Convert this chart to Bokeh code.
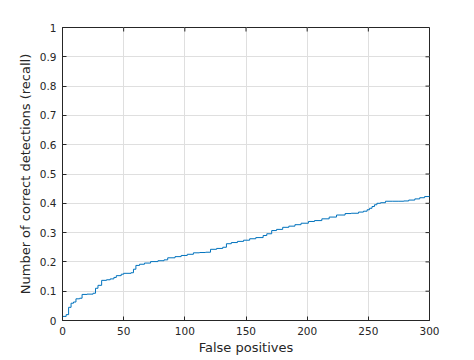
import math
from bokeh.plotting import figure
from bokeh.models import FixedTicker, Range1d
from bokeh.embed import file_html
from bokeh.resources import INLINE

# Data
false_positives = [0, 3, 5, 7, 9, 11, 14, 16, 20, 25, 27, 29, 32, 36, 39, 42, 44, 48, 50, 56,
                   58, 60, 63, 67, 72, 78, 83, 86, 92, 97, 102, 107, 112, 117, 121, 126, 131,
                   134, 138, 143, 148, 153, 158, 164, 167, 171, 175, 180, 185, 190, 195, 201,
                   206, 212, 218, 224, 231, 236, 242, 246, 249, 251, 253, 255, 257, 260, 264,
                   270, 275, 279, 283, 288, 292, 296, 300]
recall = [0.014, 0.020, 0.045, 0.059, 0.063, 0.074, 0.076, 0.089, 0.090, 0.093, 0.110, 0.120,
          0.137, 0.139, 0.142, 0.147, 0.153, 0.158, 0.161, 0.163, 0.175, 0.188, 0.192, 0.196,
          0.201, 0.204, 0.207, 0.214, 0.218, 0.222, 0.226, 0.231, 0.232, 0.233, 0.243, 0.246,
          0.250, 0.262, 0.266, 0.270, 0.274, 0.279, 0.283, 0.290, 0.296, 0.307, 0.311, 0.318,
          0.322, 0.327, 0.332, 0.338, 0.341, 0.347, 0.353, 0.360, 0.365, 0.366, 0.370, 0.373,
          0.378, 0.383, 0.389, 0.395, 0.400, 0.402, 0.407, 0.407, 0.407, 0.408, 0.411, 0.415,
          0.419, 0.423, 0.427]

x_ticks = [0, 50, 100, 150, 200, 250, 300]
y_ticks = [0, 0.1, 0.2, 0.3, 0.4, 0.5, 0.6, 0.7, 0.8, 0.9, 1.0]
y_tick_labels = ["0", "0.1", "0.2", "0.3", "0.4", "0.5", "0.6", "0.7", "0.8", "0.9", "1"]

FONT = "DejaVu Sans"
DARK = "#262626"

x_min, x_max = x_ticks[0], x_ticks[-1]
y_min, y_max = y_ticks[0], y_ticks[-1]

p = figure(frame_width=367, frame_height=293, output_backend="svg", toolbar_location=None,
           x_range=Range1d(x_min, x_max), y_range=Range1d(y_min, y_max),
           min_border_left=62, min_border_right=45, min_border_top=27, min_border_bottom=38,
           x_axis_label="False positives", y_axis_label="Number of correct detections (recall)")
p.background_fill_color = "white"
p.border_fill_color = "white"
p.outline_line_color = DARK
p.outline_line_width = 1

p.grid.grid_line_color = "#dfdfdf"
p.grid.grid_line_width = 1
p.xgrid.ticker = FixedTicker(ticks=x_ticks)
p.ygrid.ticker = FixedTicker(ticks=y_ticks)

p.step(false_positives, recall, mode="after", line_color="#0072BD", line_width=1)

p.xaxis.ticker = FixedTicker(ticks=x_ticks)
p.yaxis.ticker = FixedTicker(ticks=y_ticks)
p.yaxis.major_label_overrides = {t: l for t, l in zip(y_ticks, y_tick_labels)}

for ax in [p.xaxis[0], p.yaxis[0]]:
    ax.major_tick_in = 4
    ax.major_tick_out = 0
    ax.minor_tick_in = 0
    ax.minor_tick_out = 0
    ax.axis_line_color = DARK
    ax.major_tick_line_color = DARK
    ax.major_label_text_font = FONT
    ax.major_label_text_font_size = "10.5px"
    ax.major_label_text_color = DARK
    ax.axis_label_text_font = FONT
    ax.axis_label_text_font_size = "13px"
    ax.axis_label_text_font_style = "normal"
    ax.axis_label_text_color = DARK
    ax.major_label_standoff = 6

p.xaxis.axis_label_standoff = 2
p.yaxis.axis_label_standoff = 4

# inward ticks on the top and right edges of the box
p.ray(x=x_ticks, y=[y_max] * len(x_ticks), length=4, length_units="screen",
      angle=-math.pi / 2, line_color=DARK, line_width=1)
p.ray(x=[x_max] * len(y_ticks), y=y_ticks, length=4, length_units="screen",
      angle=math.pi, line_color=DARK, line_width=1)

open("out.html", "w").write(file_html(p, INLINE))
